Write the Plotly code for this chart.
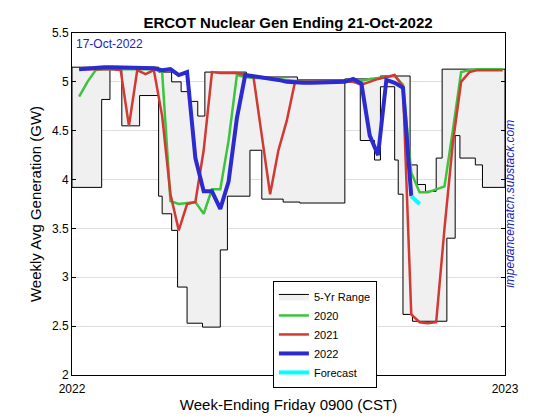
import pandas as pd
import plotly.graph_objects as go

# Weekly series, week-ending Fridays of 2022 (index 0 = 07-Jan)
week_ending = pd.date_range("2022-01-07", periods=52, freq="7D")

gen_2020 = [4.85, 5.00, 5.12, 5.13, 5.13, 5.13, 5.13, 5.13, 5.13, 5.13,
            5.10, 3.78, 3.75, 3.76, 3.77, 3.65, 3.90, 3.90, 4.40, 5.07,
            5.05, 5.04, 5.04, 5.03, 5.03, 5.02, 5.01, 5.00, 5.00, 5.00,
            5.00, 5.00, 5.00, 5.00, 5.01, 5.03, 5.04, 5.05, 5.06, 4.97,
            4.07, 3.87, 3.87, 3.90, 3.93, 4.50, 5.10, 5.12, 5.13, 5.13,
            5.13, 5.13]
gen_2021 = [5.13, 5.13, 5.13, 5.13, 5.13, 5.12, 4.55, 5.12, 5.08, 5.12,
            4.65, 3.85, 3.48, 3.75, 3.77, 4.30, 5.10, 5.09, 5.09, 5.09,
            5.07, 5.05, 4.45, 3.85, 4.30, 4.60, 5.00, 5.00, 5.00, 5.00,
            5.00, 5.00, 5.00, 5.00, 4.97, 5.00, 5.03, 5.05, 5.07, 4.95,
            2.62, 2.54, 2.53, 2.54, 3.50, 4.37, 5.00, 5.10, 5.12, 5.12,
            5.12, 5.12]
gen_2022 = [5.13, 5.14, 5.14, 5.15, 5.15, 5.15, 5.15, 5.15, 5.15, 5.14,
            5.12, 5.13, 5.07, 5.10, 4.22, 3.88, 3.88, 3.70, 3.98, 4.63,
            5.07, 5.06, 5.05, 5.04, 5.02, 5.00, 4.99, 4.99, 4.99, 4.99,
            5.00, 5.00, 5.00, 5.03, 4.98, 4.45, 4.25, 5.02, 4.99, 4.94,
            3.83]
forecast_dates = ["2022-10-14", "2022-10-21"]
forecast_vals = [3.83, 3.75]

# 5-yr range envelopes (step start dates)
lower_dates = ["2022-01-01", "2022-01-26", "2022-02-02", "2022-02-12", "2022-02-27",
               "2022-03-15", "2022-03-18", "2022-03-26", "2022-03-31", "2022-04-08",
               "2022-04-21", "2022-05-06", "2022-05-12", "2022-05-31", "2022-06-10",
               "2022-06-28", "2022-07-12", "2022-08-19", "2022-09-01", "2022-09-13",
               "2022-09-18", "2022-09-30", "2022-10-03", "2022-10-07", "2022-10-15",
               "2022-11-13", "2022-11-20", "2022-11-24", "2022-12-07", "2022-12-13",
               "2023-01-01"]
lower_vals = [3.92, 4.82, 5.13, 4.55, 4.86, 3.83, 3.65, 3.48, 2.90, 2.53,
              2.49, 3.28, 3.83, 4.30, 3.80, 3.77, 3.76, 5.00, 4.40, 4.20,
              4.95, 4.20, 3.85, 2.62, 2.55, 3.40, 4.45, 4.22, 4.15, 3.92,
              3.92]
upper_dates = ["2022-01-01", "2022-03-15", "2022-03-26", "2022-04-03", "2022-04-10",
               "2022-04-17", "2022-04-23", "2022-05-28", "2022-07-10", "2022-08-19",
               "2022-09-18", "2022-10-11", "2022-10-13", "2022-10-19", "2022-10-26",
               "2022-11-04", "2022-11-09", "2023-01-01"]
upper_vals = [5.15, 5.10, 5.00, 4.90, 4.80, 4.65, 5.10, 5.05, 5.02, 5.03,
              5.06, 5.06, 4.15, 3.95, 3.88, 4.22, 5.13, 5.13]

# closed step outline: along the top, then back along the bottom
path_x, path_y = [], []
for i in range(len(upper_dates)):
    if i:
        path_x.append(upper_dates[i]); path_y.append(upper_vals[i - 1])
    path_x.append(upper_dates[i]); path_y.append(upper_vals[i])
rl_d, rl_v = lower_dates[::-1], lower_vals[::-1]
for i in range(len(rl_d)):
    if i:
        path_x.append(rl_d[i - 1]); path_y.append(rl_v[i])
    path_x.append(rl_d[i]); path_y.append(rl_v[i])
path_x.append(upper_dates[0]); path_y.append(upper_vals[0])

fig = go.Figure()
fig.add_trace(go.Scatter(x=path_x, y=path_y, fill="toself", fillcolor="#f0f0f0",
                         line=dict(color="black", width=1), mode="lines",
                         name="5-Yr Range"))
fig.add_trace(go.Scatter(x=week_ending, y=gen_2020, mode="lines", name="2020",
                         line=dict(color="#3cc43c", width=2.5)))
fig.add_trace(go.Scatter(x=week_ending, y=gen_2021, mode="lines", name="2021",
                         line=dict(color="#d03a32", width=2.5)))
fig.add_trace(go.Scatter(x=week_ending[:len(gen_2022)], y=gen_2022, mode="lines",
                         name="2022", line=dict(color="#2b2bd0", width=4)))
fig.add_trace(go.Scatter(x=forecast_dates, y=forecast_vals, mode="lines",
                         name="Forecast", line=dict(color="cyan", width=4)))

ax = dict(showline=True, linecolor="black", linewidth=1, mirror="ticks",
          ticks="inside", ticklen=4, tickcolor="black", zeroline=False,
          automargin=False, tickfont=dict(size=12, color="black"))
fig.update_xaxes(**ax, range=["2022-01-01", "2023-01-01"],
                 tickvals=["2022-01-01", "2023-01-01"], ticktext=["2022", "2023"],
                 showgrid=False, ticklabelstandoff=3,
                 title=dict(text="Week-Ending Friday 0900 (CST)", font=dict(size=15),
                            standoff=4))
fig.update_yaxes(**ax, range=[2, 5.5], dtick=0.5, tickformat=".1~f",
                 showgrid=True, gridcolor="#dedede",
                 title=dict(text="Weekly Avg Generation (GW)", font=dict(size=15),
                            standoff=6))
fig.update_layout(
    width=560, height=420, plot_bgcolor="white", paper_bgcolor="white",
    font=dict(family="Arial, Liberation Sans", color="black"),
    margin=dict(l=64, r=63, t=25, b=53),
    title=dict(text="<b>ERCOT Nuclear Gen Ending 21-Oct-2022</b>", x=0.5, y=0.977,
               font=dict(size=15)),
    legend=dict(x=0.464, y=0.275, xanchor="left", yanchor="top",
                bordercolor="black", borderwidth=1, bgcolor="white",
                font=dict(size=11), tracegroupgap=0, itemwidth=30),
    showlegend=True,
)
fig.add_annotation(text="17-Oct-2022", xref="paper", yref="paper", x=0.005, y=0.995,
                   xanchor="left", yanchor="top", showarrow=False,
                   font=dict(size=12, color="#2020c0"))
fig.add_annotation(text="<i>impedancematch.substack.com</i>", xref="paper",
                   yref="paper", x=1.032, y=0.5, textangle=-90, showarrow=False,
                   font=dict(size=12, color="#2020c0"))
fig.write_html("out.html")
